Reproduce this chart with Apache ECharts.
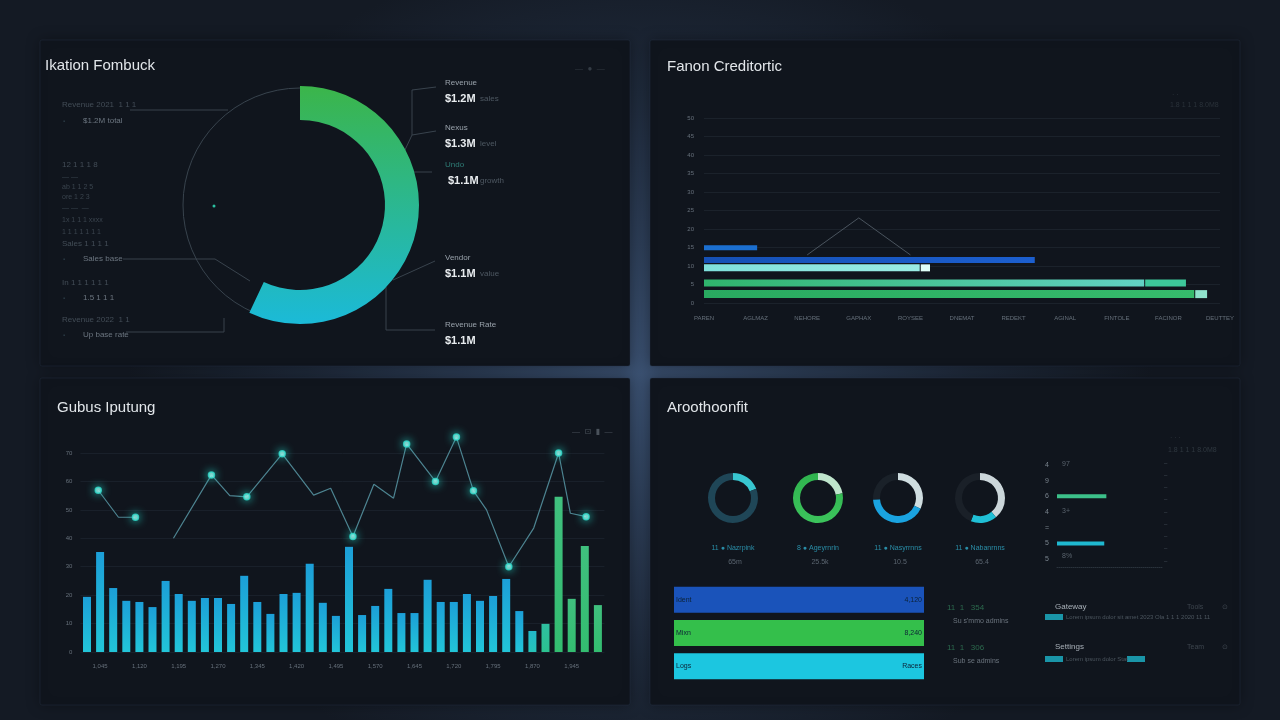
<!DOCTYPE html>
<html>
<head>
<meta charset="utf-8">
<script src="https://cdn.jsdelivr.net/npm/echarts@6/dist/echarts.min.js"></script>
<style>
html,body{margin:0;padding:0;width:1280px;height:720px;overflow:hidden;
background:radial-gradient(ellipse 40% 60% at 50% 52%, #3a5070 0%, #2c3d56 30%, #1e293a 65%, #141a24 100%);}
#c{width:1280px;height:720px;}
</style>
</head>
<body>
<div id="c"></div>
<script>
// ---------- DATA ----------
// Top-left donut (filled share, remainder)
const tlDonutValues = [57, 43];
const tlRightLabels = [
  ['Revenue', '$1.2M', 'sales'],
  ['Nexus', '$1.3M', 'level'],
  ['Undo', '$1.1M', 'growth'],
  ['Vendor', '$1.1M', 'value'],
  ['Revenue Rate', '$1.1M', '']
];
const tlLeftLabels = [
  ['Revenue 2021  1 1 1', '$1.2M total'],
  ['Sales 1 1 1 1', 'Sales base'],
  ['In 1 1 1 1 1 1', '1.5 1 1 1'],
  ['Revenue 2022  1 1', 'Up base rate']
];
const tlListLines = ['— —', 'ab 1 1 2 5', 'ore 1 2 3', '— —  —', '1x 1 1 1 xxxx', '1 1 1 1 1 1 1', 'Mzca aa 1 1 1 1'];

// Top-right chart
const trCategories = ['PAREN', 'AGLMAZ', 'NEHORE', 'GAPHAX', 'ROYSEE', 'DNEMAT', 'REDEKT', 'AGINAL', 'FINTOLE', 'FACINOR', 'DEUTTEY'];
const trLineValues = ['-', '-', 13, 23, 13, '-', '-', '-', '-', '-', '-'];
const trRowLevels = [14.9, 11.6, 9.5, 5.4, 2.4];
const trRowEnds = [1.03, 6.41, 4.38, 9.34, 9.75];
const trRowSplits = [null, null, 4.2, 8.55, 9.52];

// Bottom-left chart
const blCategories = ['1,020','1,045','1,070','1,095','1,120','1,145','1,170','1,195','1,220','1,245',
  '1,270','1,295','1,320','1,345','1,370','1,395','1,420','1,445','1,470','1,495',
  '1,520','1,545','1,570','1,595','1,620','1,645','1,670','1,695','1,720','1,745',
  '1,770','1,795','1,820','1,845','1,870','1,895','1,920','1,945','1,970','1,995'];
const blBarValues = [19.4, 35.2, 22.5, 18.0, 17.6, 15.8, 25.0, 20.4, 18.0, 19.0,
  19.0, 16.9, 26.8, 17.6, 13.4, 20.4, 20.8, 31.0, 17.3, 12.7,
  37.0, 13.0, 16.2, 22.2, 13.7, 13.7, 25.4, 17.6, 17.6, 20.4,
  18.0, 19.7, 25.7, 14.4, 7.4, 9.9, 54.6, 18.7, 37.3, 16.5];
const blLinePoints = [[0.86, 56.9], [2.4, 47.4], [3.7, 47.4], [5, '-'], [6.6, 40.0], [9.5, 62.3],
  [10.9, 55.0], [12.2, 54.6], [14.9, 69.7], [17.3, 55.2], [18.6, 57.6], [20.3, 40.6],
  [21.9, 59.0], [23.4, 54.1], [24.4, 73.2], [26.6, 60.0], [28.2, 75.6], [29.5, 56.7],
  [30.5, 50.0], [32.2, 30.0], [34.1, 43.6], [36, 70.0], [36.9, 48.8], [38.1, 47.6]];
const blMarked = [0, 2, 5, 7, 8, 11, 14, 15, 16, 17, 19, 21, 23];

// Bottom-right
const brDonutNames = ['11 ● Nazrpink', '8 ● Ageyrnrin', '11 ● Nasyrrnns', '11 ● Nabanrnns'];
const brDonutSub = ['65m', '25.5k', '10.5', '65.4'];
const brDonutValues = [[19, 81], [22, 78], [32, 42, 26], [39, 17, 44]];
const brBarCats = ['Ident', 'Mixn', 'Logs'];
const brBarValues = [100, 100, 100];
const brBarRight = ['4,120', '8,240', 'Races'];
const brMiniCats = ['4', '9', '6', '4', '=', '5', '5'];
const brMiniValues = ['-', '-', 47, '-', '-', 45, '-'];
const brMiniRight = ['–', '–', '–', '–', '–', '–', '–', '–', '–'];

// ---------- HELPERS ----------
const FONT = '"Liberation Sans", "DejaVu Sans", Arial, sans-serif';
const G = [];
function panel(x, y, w, h) {
  G.push({ type: 'rect', z: 0, silent: true, shape: { x, y, width: w, height: h, r: 2 },
    style: { fill: '#10151d', stroke: 'rgba(40,55,75,0.35)', lineWidth: 1, shadowBlur: 14, shadowColor: 'rgba(0,0,0,0.35)' } });
}
function txt(x, y, t, fill, size, opts) {
  opts = opts || {};
  G.push({ type: 'text', z: 10, silent: true, x, y,
    style: { text: t, fill, font: (opts.weight || 'normal') + ' ' + size + 'px ' + FONT,
      textAlign: opts.align || 'left', textVerticalAlign: 'middle', align: opts.align || 'left', verticalAlign: 'middle' } });
}
function line(points, stroke, w) {
  G.push({ type: 'polyline', z: 1, silent: true, shape: { points }, style: { stroke: stroke || '#39434d', lineWidth: w || 1, fill: null } });
}
function box(x, y, w, h, fill) {
  G.push({ type: 'rect', z: 9, silent: true, shape: { x, y, width: w, height: h }, style: { fill } });
}

// panels
panel(40, 40, 590, 326);
panel(650, 40, 590, 326);
panel(40, 378, 590, 327);
panel(650, 378, 590, 327);

// titles
txt(45, 66, 'Ikation Fombuck', '#e2e6ea', 15);
txt(667, 67, 'Fanon Creditortic', '#e2e6ea', 15);
txt(57, 408, 'Gubus Iputung', '#e2e6ea', 15);
txt(667, 408, 'Aroothoonfit', '#e2e6ea', 15);

// TL decorations
G.push({ type: 'circle', z: 1, silent: true, shape: { cx: 300, cy: 205, r: 117 }, style: { fill: null, stroke: '#38434d', lineWidth: 1 } });
G.push({ type: 'circle', z: 6, silent: true, shape: { cx: 214, cy: 206, r: 1.5 }, style: { fill: '#2bbfa0' } });
txt(575, 69, '—  ●  —', '#343c45', 8);
const tlLeftY = [[105, 121], [244, 259], [283, 298], [320, 335]];
tlLeftLabels.forEach((l, i) => {
  txt(62, tlLeftY[i][0], l[0], '#434d57', 8);
  txt(63, tlLeftY[i][1], '▪', '#2a3a44', 6);
  txt(83, tlLeftY[i][1], l[1], '#6c7680', 8);
});
txt(62, 165, '12 1 1 1 8', '#434d57', 8);
const tlListY = [177, 187, 197, 208, 220, 232];
tlListLines.slice(0, 6).forEach((t, i) => txt(62, tlListY[i], t, '#3a444e', 7));
line([[130, 110], [228, 110]]);
line([[123, 259], [215, 259], [250, 281]]);
line([[126, 332], [224, 332], [224, 318]]);
line([[436, 87], [412, 90], [412, 135], [436, 131]]);
line([[412, 135], [404, 152]]);
line([[396, 172], [432, 172]]);
line([[393, 280], [435, 261]]);
line([[386, 287], [386, 330], [435, 330]]);
const tlRightY = [[83, 99], [128, 144], [165, 181], [258, 274], [325, 341]];
tlRightLabels.forEach((l, i) => {
  txt(445, tlRightY[i][0], l[0], i === 2 ? '#2f7f78' : '#9aa3ac', 8);
  txt(i === 2 ? 448 : 445, tlRightY[i][1], l[1], '#e8ecef', 11, { weight: 'bold' });
  if (l[2]) txt(480, tlRightY[i][1], l[2], '#4e5862', 8);
});

// TR decorations
txt(1172, 95, '· ·', '#2a323a', 7);
txt(1170, 105, '1.8 1 1 1 8.0M8', '#2a323a', 7);

// BL decorations
txt(572, 432, '—  ⊡  ▮  —', '#4a525b', 8);

// BR decorations
const brDonutX = [733, 818, 898, 980];
brDonutX.forEach((x, i) => {
  txt(x, 548, brDonutNames[i], '#2a8ea8', 7, { align: 'center' });
  txt(x + 2, 562, brDonutSub[i], '#5b6570', 7, { align: 'center' });
});
txt(1170, 438, '· · ·', '#2a323a', 7);
txt(1168, 450, '1.8 1 1 1 8.0M8', '#2f3840', 7);
txt(1062, 464, '97', '#59636d', 7);
txt(1062, 511, '3+', '#59636d', 7);
txt(1062, 556, '8%', '#59636d', 7);
txt(947, 608, '11  1   354', '#2c6b4e', 8);
txt(953, 621, "Su s'mmo admins", '#6b747e', 7);
txt(947, 648, '11  1   306', '#2c6b4e', 8);
txt(953, 661, 'Sub se admins', '#6b747e', 7);
txt(1055, 607, 'Gateway', '#a8b0b8', 8);
box(1045, 614, 18, 6, '#1a95a8');
txt(1066, 617, 'Lorem ipsum dolor sit amet 2023 Ola 1 1 1 2020 11 11', '#4c565f', 6);
txt(1187, 607, 'Tools', '#3d454e', 7);
txt(1222, 607, '⊙', '#3d454e', 7);
txt(1055, 647, 'Settings', '#a8b0b8', 8);
box(1045, 656, 18, 6, '#1a95a8');
txt(1066, 659, 'Lorem ipsum dolor Stat', '#4c565f', 6);
box(1127, 656, 18, 6, '#1a95a8');
txt(1187, 647, 'Team', '#3d454e', 7);
txt(1222, 647, '⊙', '#3d454e', 7);

// ---------- CHART ----------
const axisLabelStyle = { color: '#66707b', fontSize: 6, fontFamily: FONT };
const hidden = { show: false };
const lin = (a, b, dir) => ({ type: 'linear', x: 0, y: 0, x2: dir === 'h' ? 1 : 0, y2: dir === 'h' ? 0 : 1,
  colorStops: [{ offset: 0, color: a }, { offset: 1, color: b }] });

const trRowHeights = [5, 6, 7, 7, 8];
const trRowFill = [
  '#1b6fd0',
  lin('#1550b5', '#1c5fcf', 'h'),
  lin('#7fe0dc', '#9aece4', 'h'),
  lin('#2fb46c', '#62d2c4', 'h'),
  lin('#29aa60', '#36bb6c', 'h')
];
const trSplitFill = [null, null, '#e0fff8', '#3dc79a', '#8fe2cc'];

const donutColors = [
  ['#38c6d0', '#1f4657'],
  ['#bfe5cc', lin('#2fb34e', '#3cc45c', 'v')],
  ['#cfdde0', '#1aa3e0', '#1a2129'],
  ['#cbd6da', '#20bfd5', '#1a2028']
];

const series = [];

// TL donut
series.push({
  type: 'pie', silent: true, center: [300, 205], radius: [85, 119], startAngle: 90, clockwise: true,
  label: { show: false }, labelLine: { show: false }, z: 3,
  itemStyle: { borderWidth: 0 },
  data: tlDonutValues.map((v, i) => ({ value: v,
    itemStyle: { borderWidth: 0, color: i === 0 ? lin('#3bb54a', '#1bbad8', 'v') : 'rgba(0,0,0,0)' } }))
});

// TR line
series.push({
  type: 'line', xAxisIndex: 0, yAxisIndex: 0, data: trLineValues, symbol: 'none', silent: true,
  lineStyle: { color: '#4a545e', width: 1 }, z: 2
});
// TR horizontal bars
series.push({
  type: 'custom', xAxisIndex: 1, yAxisIndex: 0, silent: true, z: 3,
  data: trRowLevels.map((lv, i) => [trRowEnds[i], lv]),
  encode: { x: 0, y: 1 },
  renderItem: function (params, api) {
    const i = params.dataIndex;
    const end = api.value(0), lv = api.value(1);
    const p0 = api.coord([0, lv]);
    const p1 = api.coord([end, lv]);
    const h = trRowHeights[i];
    const children = [];
    const sp = trRowSplits[i];
    if (sp != null) {
      const ps = api.coord([sp, lv]);
      children.push({ type: 'rect', shape: { x: p0[0], y: p0[1] - h / 2, width: ps[0] - p0[0] - 1, height: h }, style: { fill: trRowFill[i] } });
      children.push({ type: 'rect', shape: { x: ps[0], y: p0[1] - h / 2, width: p1[0] - ps[0], height: h }, style: { fill: trSplitFill[i] } });
    } else {
      children.push({ type: 'rect', shape: { x: p0[0], y: p0[1] - h / 2, width: p1[0] - p0[0], height: h }, style: { fill: trRowFill[i] } });
    }
    return { type: 'group', children };
  }
});

// BL bars
series.push({
  type: 'bar', xAxisIndex: 2, yAxisIndex: 1, data: blBarValues, barWidth: 8, silent: true, z: 2,
  itemStyle: {
    color: function (p) {
      const i = p.dataIndex;
      if (i >= 36) return lin('#40c07e', '#33bd70', 'v');
      if (i === 35) return lin('#2fbfa0', '#2bc390', 'v');
      if (i === 34) return lin('#22b8c8', '#26c4b8', 'v');
      return lin('#1c9fd8', '#22c5d8', 'v');
    }
  }
});
// BL line
series.push({
  type: 'line', xAxisIndex: 3, yAxisIndex: 1, data: blLinePoints, symbol: 'none', clip: false, silent: true,
  connectNulls: false, lineStyle: { color: '#4d8491', width: 1.2 }, z: 4
});
// BL markers
series.push({
  type: 'scatter', xAxisIndex: 3, yAxisIndex: 1, clip: false, silent: true, z: 5,
  data: blMarked.map(k => blLinePoints[k]), symbolSize: 6,
  itemStyle: { color: '#a8f6ee', borderColor: '#2fdccc', borderWidth: 1.5, shadowBlur: 9, shadowColor: '#25e0cf' }
});

// BR donuts
brDonutValues.forEach((vals, d) => {
  series.push({
    type: 'pie', silent: true, center: [brDonutX[d], 498], radius: [18, 25], startAngle: 90, clockwise: true,
    label: { show: false }, labelLine: { show: false }, z: 3,
    data: vals.map((v, i) => ({ value: v, itemStyle: { borderWidth: 0, color: donutColors[d][i] } }))
  });
});

// BR big bars
const brBarColors = ['#1a53ba', '#34bf4b', '#1cc6e0'];
series.push({
  type: 'bar', xAxisIndex: 4, yAxisIndex: 2, data: brBarValues, barWidth: 26, silent: true, z: 2,
  itemStyle: { color: p => brBarColors[p.dataIndex] },
  label: { show: true, position: 'insideLeft', distance: 2, formatter: p => p.name, color: '#0c2236', fontSize: 7, fontFamily: FONT }
});
series.push({
  type: 'bar', xAxisIndex: 4, yAxisIndex: 2, data: brBarValues, barWidth: 26, barGap: '-100%', silent: true, z: 3,
  itemStyle: { color: 'rgba(0,0,0,0)' },
  label: { show: true, position: 'insideRight', distance: 2, formatter: p => brBarRight[p.dataIndex], color: '#0c2236', fontSize: 7, fontFamily: FONT }
});

// BR mini bars
const brMiniColors = ['#3cc08a', '#1fb8d0'];
series.push({
  type: 'bar', xAxisIndex: 5, yAxisIndex: 3, data: brMiniValues, barWidth: 4, silent: true, z: 2,
  itemStyle: { color: p => p.dataIndex < 4 ? brMiniColors[0] : brMiniColors[1] }
});

const option = {
  backgroundColor: 'transparent',
  animation: false,
  textStyle: { fontFamily: FONT },
  graphic: { elements: G },
  grid: [
    { left: 704, right: 60, top: 118, bottom: 417 },
    { left: 80.45, right: 675.55, top: 453, bottom: 68 },
    { left: 674, right: 356, top: 583, bottom: 37 },
    { left: 1057, right: 118, top: 457, bottom: 153 }
  ],
  xAxis: [
    { type: 'category', gridIndex: 0, data: trCategories, boundaryGap: false,
      axisLine: hidden, axisTick: hidden, splitLine: hidden, axisLabel: Object.assign({ margin: 12 }, axisLabelStyle) },
    { type: 'value', gridIndex: 0, min: 0, max: 10, show: false },
    { type: 'category', gridIndex: 1, data: blCategories, axisLine: hidden, axisTick: hidden,
      axisLabel: Object.assign({ margin: 11, interval: (i) => i % 3 === 1 }, axisLabelStyle) },
    { type: 'value', gridIndex: 1, min: -0.5, max: 39.5, show: false },
    { type: 'value', gridIndex: 2, min: 0, max: 100, show: false },
    { type: 'value', gridIndex: 3, min: 0, max: 100, axisLabel: hidden, axisTick: hidden, splitLine: hidden,
      axisLine: { show: true, lineStyle: { color: '#2a333c', type: 'dotted' } } }
  ],
  yAxis: [
    { type: 'value', gridIndex: 0, min: 0, max: 50, interval: 5, axisLine: hidden, axisTick: hidden,
      splitLine: { lineStyle: { color: '#1b222b', width: 1 } }, axisLabel: Object.assign({ margin: 10 }, axisLabelStyle) },
    { type: 'value', gridIndex: 1, min: 0, max: 70, interval: 10, axisLine: hidden, axisTick: hidden,
      splitLine: { lineStyle: { color: '#19202a', width: 1 } }, axisLabel: Object.assign({ margin: 8 }, axisLabelStyle) },
    { type: 'category', gridIndex: 2, data: brBarCats, inverse: true, show: false },
    { type: 'category', gridIndex: 3, data: brMiniCats, inverse: true, axisLine: hidden, axisTick: hidden,
      axisLabel: { color: '#7a848e', fontSize: 7, margin: 8, fontFamily: FONT } },
    { type: 'category', gridIndex: 3, data: brMiniRight, position: 'right', axisLine: hidden, axisTick: hidden,
      axisLabel: { color: '#4a545e', fontSize: 6, margin: 2, fontFamily: FONT } }
  ],
  series
};

const chart = echarts.init(document.getElementById('c'), null, { renderer: 'canvas', width: 1280, height: 720 });
chart.setOption(option);
</script>
</body>
</html>
